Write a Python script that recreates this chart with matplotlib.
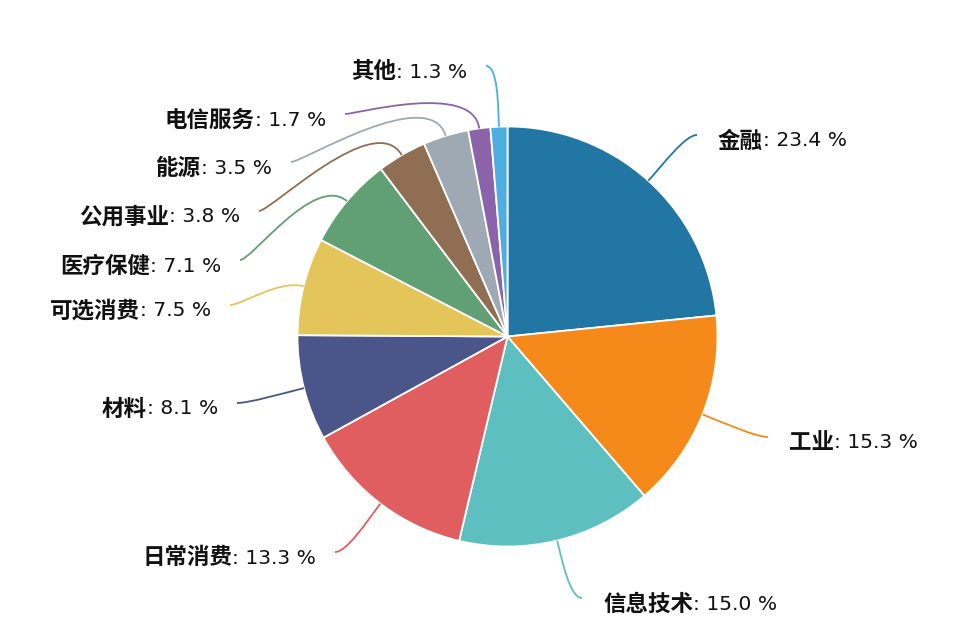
import matplotlib.pyplot as plt
import numpy as np
from matplotlib.path import Path
from matplotlib.patches import PathPatch

plt.rcParams['font.family'] = ['Noto Sans CJK SC', 'DejaVu Sans']

sectors = ["金融", "工业", "信息技术", "日常消费", "材料", "可选消费",
           "医疗保健", "公用事业", "能源", "电信服务", "其他"]
shares = [23.4, 15.3, 15.0, 13.3, 8.1, 7.5, 7.1, 3.8, 3.5, 1.7, 1.3]
colors = ["#2176a3", "#f5891a", "#5ebfc1", "#e05e5f", "#4a568a", "#e3c55a",
          "#61a074", "#8f6e53", "#9ea9b4", "#8b63aa", "#4faee0"]

# label anchor points (pixels, y from top)
label_pos = [(697, 135), (768, 437), (582, 598), (335, 552), (237, 403), (230, 305),
             (240, 260), (259, 211), (291, 162), (345, 114), (486, 66)]

W, H = 972, 634
cx, cy, R = 507.5, H - 336.5, 210

fig = plt.figure(figsize=(9.72, 6.34), dpi=100)
ax = fig.add_axes([0, 0, 1, 1])

wedges, _ = ax.pie(shares, colors=colors, startangle=90, counterclock=False,
                   center=(cx, cy), radius=R, normalize=True,
                   wedgeprops=dict(edgecolor="white", linewidth=1.3))
ax.set_xlim(0, W)
ax.set_ylim(0, H)
ax.set_aspect("equal")
ax.axis("off")

fs_name = 16.2
fs_val = 14.6
val_font = ['DejaVu Sans', 'Noto Sans CJK SC']
for w, name, val, col, (lx, ly) in zip(wedges, sectors, shares, colors, label_pos):
    mid = np.deg2rad((w.theta1 + w.theta2) / 2)
    d = np.array([np.cos(mid), np.sin(mid)])
    p0 = np.array([cx, cy]) + d * R
    p3 = np.array([lx, H - ly])
    right = p3[0] > cx
    p1 = p0 + d * 0.35 * np.linalg.norm(p3 - p0)
    p2 = p3 + np.array([-12 if right else 12, 0])
    path = Path([p0, p1, p2, p3], [Path.MOVETO, Path.CURVE4, Path.CURVE4, Path.CURVE4])
    ax.add_patch(PathPatch(path, facecolor="none", edgecolor=col, lw=1.3))

    vtxt = f": {val:.1f} %"
    ty = p3[1] - 6
    if right:
        t1 = ax.text(p3[0] + 21, ty, name, fontsize=fs_name, fontweight="bold",
                     ha="left", va="center", color="#111111")
        ax.annotate(vtxt, xy=(1, 0.5), xycoords=t1, fontsize=fs_val, ha="left",
                    va="center", color="#111111", family=val_font)
    else:
        t1 = ax.text(p3[0] - 19, ty, vtxt, fontsize=fs_val, ha="right",
                     va="center", color="#111111", family=val_font)
        ax.annotate(name, xy=(0, 0.5), xycoords=t1, fontsize=fs_name, fontweight="bold",
                    ha="right", va="center", color="#111111")

fig.savefig("out.png", dpi=100)
